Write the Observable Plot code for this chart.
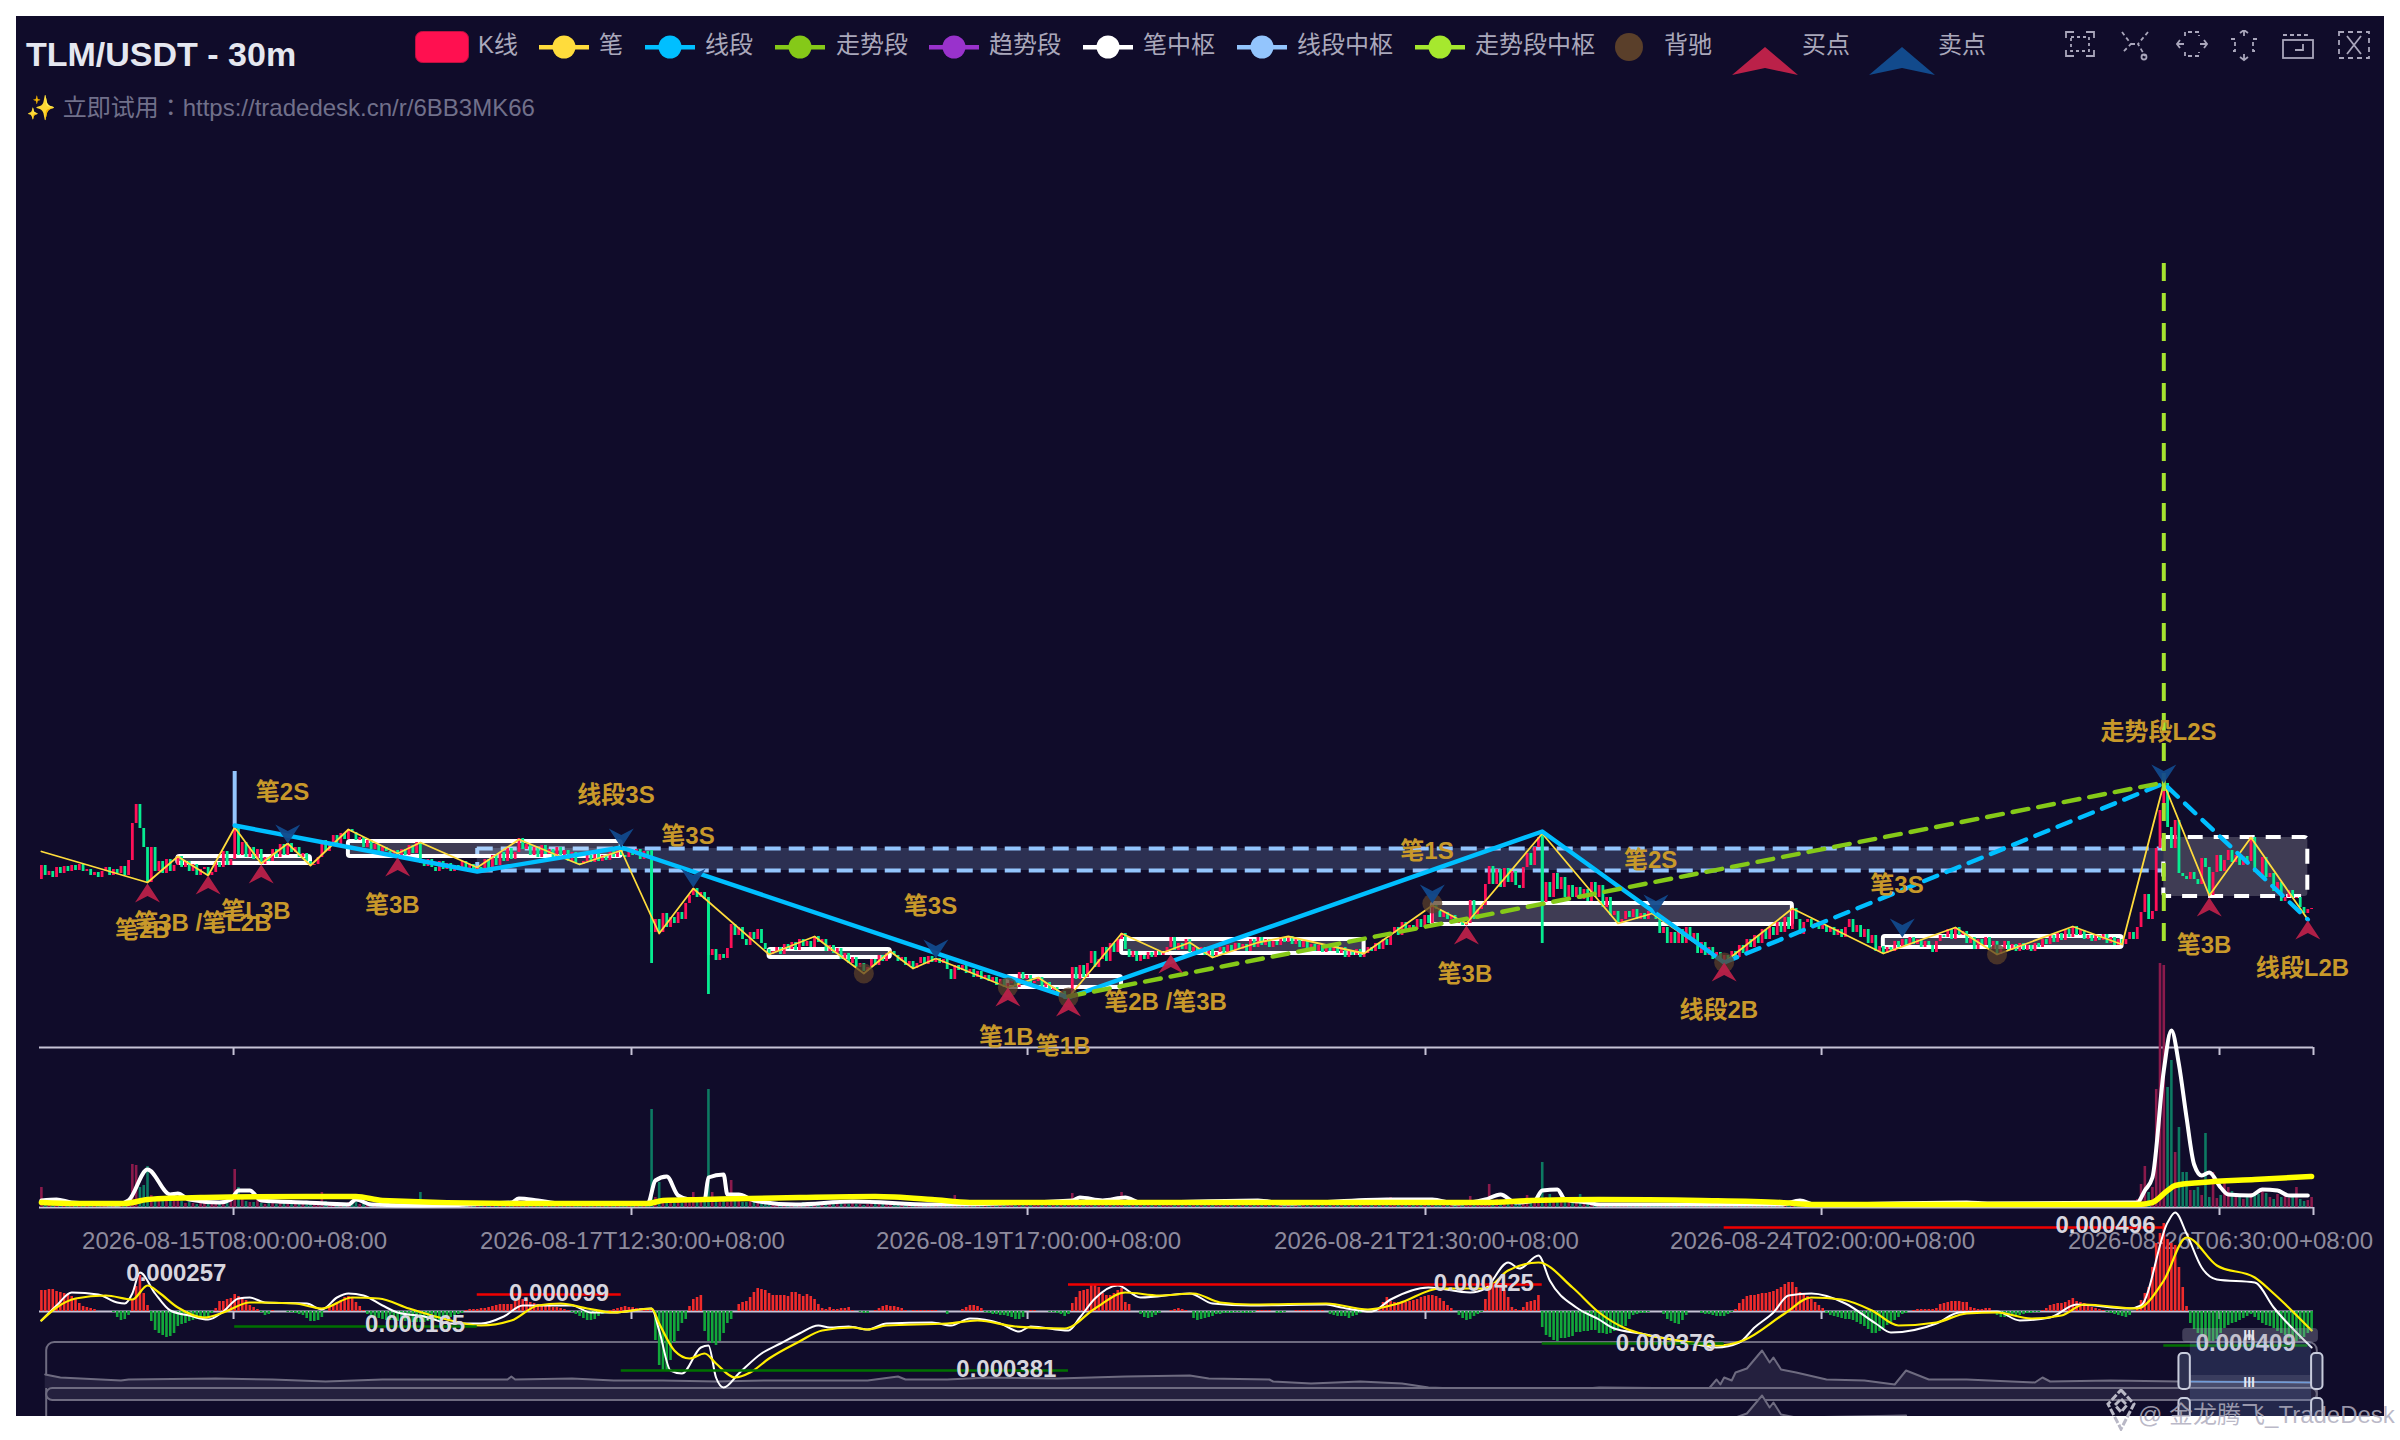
<!DOCTYPE html>
<html><head><meta charset="utf-8">
<script src="https://cdn.jsdelivr.net/npm/d3@7"></script>
<script src="https://cdn.jsdelivr.net/npm/@observablehq/plot@0.6"></script>
<style>
html,body{margin:0;background:#fff}
#chart{position:absolute;left:16px;top:16px;width:2368px;height:1400px;background:#100c2a;overflow:hidden;font-family:"Liberation Sans","Noto Sans CJK JP",sans-serif}
#chart svg{position:absolute;left:0;top:0}
.t{position:absolute;white-space:nowrap;transform:translateY(-50%);line-height:1}
</style></head><body>
<div id="chart"></div>
<script>
// ---------- price panel: values read upward from the panel's axis line ----------
const firstOpen=168;
const closes=[
182,172,176,170,180,174,181,176,182,177,
183,176,178,172,175,170,176,180,172,178,
174,181,172,187,224,243,219,200,165,200,
176,186,174,188,176,182,191,180,186,176,
183,172,178,180,172,175,185,180,196,182,
188,220,192,205,190,200,188,198,183,190,
186,198,190,203,192,204,195,200,190,194,
186,182,183,190,207,196,204,212,203,214,
208,218,215,207,210,200,207,198,203,194,
200,196,190,197,190,198,192,202,194,205,
184,181,188,180,176,186,178,184,176,182,
178,186,178,183,177,180,176,188,178,192,
182,195,186,199,188,195,209,198,203,192,
200,190,202,193,198,188,200,192,197,186,
195,184,183,186,192,185,194,186,192,187,
196,190,197,192,190,196,192,198,188,196,
190,115,128,115,134,120,130,124,135,128,
144,152,159,150,155,148,92,98,87,93,
89,99,123,112,120,108,102,115,108,118,
104,98,93,96,100,93,103,98,105,97,
108,101,106,100,111,105,108,96,102,94,
99,88,94,84,90,80,84,76,80,88,
82,92,86,94,96,92,86,90,82,86,
79,84,90,83,91,85,89,84,88,78,
68,82,77,82,74,78,70,76,68,72,
66,70,62,68,60,64,66,60,75,68,
72,64,66,70,60,65,56,60,52,56,
48,50,80,68,82,70,84,96,80,88,
100,86,104,95,108,114,98,90,96,86,
92,88,95,90,96,92,95,100,110,97,
104,98,108,95,100,94,100,92,98,90,
95,100,94,102,96,104,98,103,96,108,
100,110,102,108,100,106,102,110,105,111,
103,108,100,106,97,103,96,102,95,103,
96,102,94,100,90,97,92,98,90,94,
100,96,104,98,108,102,114,120,112,125,
116,122,118,128,120,132,124,142,138,130,
135,128,132,124,129,122,124,147,128,138,
142,163,181,163,178,160,179,165,176,162,
159,180,194,182,200,210,145,165,150,174,
158,170,150,162,150,160,148,158,146,165,
150,162,140,150,132,136,125,128,136,130,
138,128,134,128,136,133,128,114,120,104,
115,104,118,104,120,108,114,94,105,92,
100,88,95,86,92,88,96,90,102,94,
108,100,112,104,118,108,120,112,125,115,
130,118,139,128,113,125,128,120,124,118,
122,115,120,112,118,110,120,128,115,122,
110,118,104,112,96,101,94,100,96,106,
100,108,102,110,103,108,100,106,102,95,
106,112,110,118,108,120,112,116,104,110,
98,108,102,110,98,106,93,98,106,97,
103,96,104,97,102,96,104,100,108,103,
112,105,114,107,118,110,121,112,117,108,
112,106,112,107,113,104,110,102,108,103,
108,115,108,120,135,153,128,136,199,237,
264,220,199,227,174,171,168,175,168,163,
189,180,152,175,192,176,187,197,185,192,
182,191,186,210,175,172,190,170,174,156,
165,146,150,157,149,150,140,134,138,139];
const wickIdx=[161,176,396], wickLow=[84,53,104], wickHigh=[197,150,215];

const biIdx=[0,28,36,44,51,58,65,71,81,94,100,115,126,142,153,163,172,192,204,217,224,230,236,255,263,271,285,296,303,309,321,329,349,367,376,396,416,425,444,462,486,505,516,536,549,560,572,583,598];
const biVal=[196,165,191,172,220,184,204,182,218,194,205,180,208,183,197,114,159,93,111,74,96,79,89,60,70,50,114,95,105,90,105,111,94,142,124,214,124,134,85,139,94,120,93,121,103,264,152,210,128];
const segIdx=[51,115,153,271,396,444], segVal=[222,176,200,50,216,85];
const segOpenIdx=[444,560,598], segOpenVal=[85,264,128];
const trendIdx=[271,560], trendVal=[51,265];

const pivotStart=[36,81,192,255,285,367,486], pivotEnd=[71,153,224,285,349,462,549];
const pivotLow=[184,191,90,60,94,123,100], pivotHigh=[191,206,98,71,108,144,111];
const openPivot=[560,598,151,210];           // start, end, low, high
const segPivot=[115,560,177,199];            // start, end, low, high
const segPivotFlat=[51,222,276];             // bar, low, high
const trendPivotFlat=[560,97,784];           // bar, low, high

const buyIdx=[28,44,58,94,255,271,298,376,444,572,598], buyVal=[164,172,183,190,60,50,93,122,85,150,127];
const sellIdx=[65,153,172,236,367,426,491,560], sellVal=[204,200,160,89,144,134,110,264];
const divIdx=[217,255,271,367,444,516], divVal=[74,60,50,144,85,93];

const tagText=["笔2B","笔3B /笔L2B","笔L3B","笔2S","笔3B","线段3S","笔3S","笔3S","笔1B","笔1B","笔2B /笔3B","笔1S","笔3B","笔2S","线段2B","笔3S","走势段L2S","笔3B","线段L2B"];
const tagIdx=[27,43,57,64,93,152,171,235,255,270,297,366,376,425,443,490,559,571,597];
const tagVal=[117,124,136,255,142,252,211,141,10,1,45,196,73,187,37,162,315,102,79];

// ---------- time axis ----------
const tickPos=[50.7,155.7,260.2,365.2,469.7,574.7];
const tickEnd=599.5;
const tickText=["2026-08-15T08:00:00+08:00","2026-08-17T12:30:00+08:00","2026-08-19T17:00:00+08:00","2026-08-21T21:30:00+08:00","2026-08-24T02:00:00+08:00","2026-08-26T06:30:00+08:00"];

// ---------- volume ----------
const volume=[
20,3,4,3,5,3,4,3,2,3,
4,3,3,2,3,2,3,4,3,2,
3,4,5,8,43,42,20,22,41,12,
8,10,6,9,7,6,9,6,4,5,
4,3,4,5,3,4,6,5,7,4,
9,38,20,8,6,5,5,7,4,3,
4,5,3,4,5,6,4,3,3,4,
3,4,4,6,15,6,5,4,3,4,
4,5,4,5,3,4,3,3,4,2,
3,2,3,4,3,4,3,4,3,4,
15,4,5,3,4,3,4,3,2,3,
3,3,2,3,3,2,4,3,4,5,
4,5,4,5,6,7,10,5,4,4,
4,3,4,3,3,4,3,3,3,3,
4,3,3,4,3,2,3,3,3,2,
4,3,4,3,3,3,3,4,3,4,
4,98,10,25,8,6,5,4,5,4,
6,8,15,6,7,5,118,15,7,5,
6,5,27,6,7,5,5,6,5,4,
4,5,3,4,3,4,3,4,3,4,
4,5,3,4,3,4,3,3,4,3,
3,4,3,3,4,3,3,2,3,4,
3,3,4,3,4,3,3,2,3,3,
2,3,4,3,3,3,4,3,3,3,
5,12,4,3,3,3,2,3,3,3,
4,3,3,2,3,3,4,3,5,4,
3,3,3,4,3,3,3,3,3,2,
3,3,14,5,7,6,8,7,5,6,
7,5,8,6,7,15,6,5,4,5,
4,3,4,3,3,3,3,4,5,5,
4,3,4,5,3,3,3,4,3,3,
3,3,3,2,3,3,3,3,3,4,
3,8,4,3,3,3,3,4,3,3,
3,3,3,3,2,3,3,3,3,3,
3,3,3,3,3,3,2,3,3,3,
3,4,4,3,4,5,10,4,5,4,
4,3,5,4,4,5,4,5,3,3,
4,3,4,4,3,3,4,11,5,6,
6,8,23,7,8,6,7,5,6,5,
5,8,12,6,8,9,45,10,13,8,
7,7,6,5,5,4,13,5,4,5,
3,4,3,4,3,3,3,3,2,3,
3,3,3,3,3,3,3,3,3,3,
3,3,3,4,3,3,3,3,3,4,
3,3,3,3,3,3,3,4,5,4,
5,3,4,3,4,3,4,3,4,3,
5,3,4,6,3,3,3,3,3,3,
3,3,3,3,3,3,4,3,3,3,
3,3,3,3,2,3,3,3,3,3,
3,3,3,3,3,3,3,3,3,4,
3,3,4,3,3,4,3,3,3,3,
3,3,3,3,3,3,3,3,3,3,
3,3,3,2,3,3,3,3,3,3,
3,3,4,3,4,3,4,3,3,3,
4,3,3,3,3,3,3,3,3,4,
5,6,5,8,23,41,15,20,118,244,
242,120,147,55,80,35,35,17,17,20,
12,74,10,35,9,12,28,20,16,10,
12,8,10,14,12,13,16,14,10,8,
13,10,12,9,10,20,8,6,7,10];
const volFastIdx=[0,4,8,20,23,28,34,36,39,47,50,52,55,58,70,81,83,87,100,124,126,131,137,160,162,165,168,171,175,176,180,181,184,188,199,214,235,272,274,280,286,290,321,328,355,367,373,381,385,389,394,396,400,402,408,411,459,464,468,508,514,553,555,557,560,562,564,566,568,570,572,575,577,583,586,590,593,598];
const volFastVal=[7,8,5,3,7,38,13,14,8,5,8,17,17,7,5,3,8,3,2,5,9,7,4,4,27,31,12,8,8,30,33,13,13,7,3,6,3,7,10,7,10,5,7,4,8,8,4,8,13,5,7,17,18,8,5,3,3,7,3,5,4,5,17,30,137,177,143,90,43,32,35,20,13,12,18,17,12,12];
const volSlowIdx=[0,9,22,28,43,70,83,90,124,160,164,175,200,220,235,245,308,362,381,393,411,438,459,468,553,557,561,563,570,584,599];
const volSlowVal=[5,4,4,8,10,11,11,7,4,4,7,8,10,11,8,5,5,5,5,7,8,7,5,3,3,5,17,22,25,28,31];

// ---------- MACD ----------
const macdHist=[
21,21,22,22,20,19,18,17,15,12,8,5,4,3,2,
0,0,0,0,
-1,-6,-9,-8,-4,
11,25,36,18,6,
-10,-19,-22,-24,-26,-25,-22,-15,-13,-12,-10,-9,-8,-7,-6,-5,-2,
3,10,10,12,13,17,15,14,11,6,4,2,
-1,-4,-3,
1,0,0,0,
-1,-1,-2,-3,-4,-7,-10,-10,-9,-6,
0,
4,7,9,11,14,15,14,9,5,
1,
-3,-5,-6,-7,-8,-9,-9,-9,-10,-10,-10,-10,-11,-11,-11,-11,-10,-11,-10,-9,-8,-7,-6,-5,-3,-2,
1,2,2,2,3,3,4,5,6,7,7,7,7,10,13,12,12,9,8,7,6,5,5,4,4,3,2,1,
-1,-3,-5,-7,-9,-9,-8,-5,-3,-1,
1,2,3,4,5,4,4,3,3,2,2,2,
-29,-54,-59,-59,-49,-31,-20,-12,-8,
5,12,14,16,
-20,-30,-32,-34,-30,-22,-12,-8,
0,
7,9,10,14,19,23,22,21,18,16,16,16,16,15,19,19,
17,15,17,15,12,7,3,2,
4,2,2,3,3,4,1,
0,
-1,-2,-2,
0,
1,3,5,6,5,5,4,3,1,
0,
1,1,1,1,1,1,1,0,
0,-3,0,0,0,
2,4,6,6,5,3,
-1,-2,-3,-3,-4,-4,-5,-6,-8,-8,-6,
0,1,1,0,
0,0,
-1,-1,-2,-3,-5,-3,
8,14,20,21,22,26,26,24,18,16,16,18,21,23,9,7,
0,0,
-3,-6,-7,-6,-4,-2,
0,0,
1,2,3,2,1,
0,
-7,-9,-8,-7,-6,-5,-3,-3,-2,-2,-2,-1,-1,-2,-2,
-2,-1,
1,1,1,1,
0,
-2,-2,-1,
0,0,
1,1,1,1,1,1,1,1,
0,
-3,-4,-5,-5,-5,-7,-5,-4,-2,-1,
0,0,0,
3,9,14,10,9,9,9,9,10,11,12,14,15,16,16,15,13,10,6,3,
0,
-4,-7,-9,-8,-5,-3,-1,
12,24,26,26,28,21,14,4,
2,1,
4,9,10,11,16,
-16,-24,-26,-29,-30,-27,-27,-26,-25,-21,
-21,-20,-20,-19,-19,
-22,-22,-23,-22,-20,-18,-17,-15,-8,
-4,-3,-2,-2,-1,0,
0,0,
-3,-8,-10,-12,-13,-9,-4,
0,0,0,
-2,-3,-3,-4,-5,-5,-5,-3,-1,
2,8,12,15,16,16,17,18,18,19,20,22,24,27,29,29,24,19,17,15,12,9,6,3,
-2,-4,-5,-6,-7,-8,-8,-9,-11,-13,-15,-18,-22,-22,-20,-17,-14,-11,-9,-6,-3,-2,
0,
1,2,2,2,2,2,3,7,8,9,10,10,10,9,9,4,3,2,2,3,3,
0,
-4,-6,-6,-6,-5,-5,-4,-3,-2,-2,-1,-1,
1,3,6,7,8,8,9,11,13,10,9,8,5,4,3,2,1,
-1,-2,-3,-4,-5,-6,-4,
0,
5,11,18,24,44,68,78,88,72,68,66,44,24,5,
-12,-18,-22,-26,-30,-30,-30,-28,-22,-17,-14,-12,-11,-9,-7,-5,-3,-6,-9,-12,-14,-15,-17,-20,-22,-24,-27,-30,-30,-28,-26,-22,-20];
const difIdx=[0,4,8,15,20,22,24,26,30,34,39,44,48,52,55,59,70,74,78,81,85,90,94,101,108,116,122,127,135,140,145,151,161,163,166,169,174,176,178,180,184,190,195,200,205,208,213,218,223,235,240,245,253,258,261,271,274,278,284,290,303,309,319,339,343,351,356,366,377,381,387,390,395,398,405,411,415,422,433,442,448,452,457,461,467,476,484,488,500,506,516,522,530,537,551,554,561,563,566,570,574,584,589,599];
const difVal=[-9,6,19,17,9,8,18,39,18,1,-4,-8,0,13,14,9,8,2,14,18,16,6,-1,-5,-12,-12,-5,6,6,6,-1,-1,3,-19,-59,-62,-36,-34,-66,-76,-62,-42,-32,-22,-14,-16,-15,-18,-12,-11,-14,-7,-12,-20,-15,-19,-6,13,26,14,18,8,6,7,4,0,12,24,19,23,49,43,56,31,4,-8,-17,-22,-30,-36,-31,-16,-1,16,18,8,-12,-21,-12,-1,0,-9,-6,7,3,6,89,99,78,44,32,29,4,-36];
const deaIdx=[0,4,9,17,24,28,31,36,43,48,55,67,74,82,89,97,105,116,124,131,137,144,151,161,163,167,171,175,178,183,187,192,200,206,214,218,223,239,247,257,270,278,286,295,304,311,319,339,350,358,369,381,387,395,404,411,418,423,432,442,449,460,467,475,483,490,500,508,516,525,533,539,553,560,566,574,584,589,599];
const deaVal=[-9,4,13,16,12,26,19,4,-6,-1,9,8,3,14,13,3,-6,-14,-9,6,8,3,-1,3,-12,-39,-47,-42,-52,-66,-61,-47,-30,-19,-16,-18,-14,-12,-9,-15,-17,3,19,16,18,9,7,8,2,8,23,23,41,49,24,-1,-17,-23,-29,-34,-29,-2,14,12,1,-14,-11,-2,-1,-7,-4,7,3,31,74,46,34,18,-19];
const macdNoteText=["0.000257","0.000099","0.000165","0.000381","0.000425","0.000376","0.000496","0.000409"];
const macdNoteIdx=[36,137,99,255,381,429,545,582];
const macdNoteVal=[38,18,-13,-58,28,-32,86,-32];
const macdRedStart=[115,271,444], macdRedEnd=[153,396,560], macdRedVal=[17,27,84];
const macdGreenStart=[51,153,396,560], macdGreenEnd=[115,271,444,598], macdGreenVal=[-15,-59,-32,-34];

// ---------- data-zoom overview ----------
const overIdx=[1,5,21,23,46,61,75,90,123,124,125,140,151,164,178,191,200,218,226,228,239,250,268,286,303,308,324,325,335,348,359,366,381,391,404,411,440,442,443,444,446,447,450,452,454,456,457,459,463,471,481,489,492,498,508,526,528,530,546,564,599];
const overVal=[14,11,8,9,10,9,7,9,9,12,9,10,8,8,7,8,8,8,12,9,9,11,10,12,13,10,9,7,5,7,5,1,-1,0,-1,1,0,9,4,11,8,16,20,29,38,26,31,19,16,9,8,4,18,9,9,6,11,7,8,7,6];

// ---------- legend ----------
const legendNames=["K线","笔","线段","走势段","趋势段","笔中枢","线段中枢","走势段中枢","背驰","买点","卖点"];
const legendColors=["#ff1050","#ffdc3c","#00bfff","#85c918","#9932cc","#ffffff","#93c5fd","#a6e82e","#5a3f2a","#bb2149","#124a8c"];
const legendIcon=[415,539,645,775,929,1083,1237,1415,1615,1732,1869];
const legendText=[478,599,705,836,989,1143,1297,1475,1664,1802,1938];

// ---------- drawing ----------
const W=2368,H=1400,FONT='"Liberation Sans","Noto Sans CJK JP",sans-serif';
const UP="#ff1058",DOWN="#06ec90",GOLD="#c8992a",AXIS="#c6c3d6";
const chart=document.getElementById("chart");
const pts=(xs,ys)=>xs.map((x,i)=>({x,y:ys[i]}));
const frame=(zero,marks)=>{
  const svg=Plot.plot({width:W,height:H,marginLeft:23,marginRight:71,marginTop:0,marginBottom:0,
    x:{domain:[-0.5,599.5],axis:null},y:{domain:[zero-H,zero],axis:null},
    style:{background:"transparent",fontFamily:FONT},marks});
  chart.appendChild(svg);return svg;
};
const arrow=(dir)=>({draw(ctx,size){const s=Math.sqrt(size/Math.PI);
  ctx.moveTo(0,0);ctx.lineTo(s,dir*1.52*s);ctx.lineTo(0,dir*1.0*s);ctx.lineTo(-s,dir*1.52*s);ctx.closePath();}});
const axisMarks=(ticks)=>[
  Plot.ruleY([0],{x1:-0.5,x2:599.5,stroke:AXIS,strokeWidth:2}),
  Plot.ruleX(ticks,{y1:()=>0,y2:()=>-8,stroke:AXIS,strokeWidth:2})
];
const bars=closes.map((c,i)=>({i,o:i?closes[i-1]:firstOpen,c,v:volume[i],h:macdHist[i]}));
const pivots=pivotStart.map((s,i)=>({s,e:pivotEnd[i],lo:pivotLow[i],hi:pivotHigh[i]}));
const wicks=wickIdx.map((i,k)=>({i,lo:wickLow[k],hi:wickHigh[k]}));

// slider base
frame(1372,[
  Plot.rect([0],{x1:()=>1.4,x2:()=>600.5,y1:()=>-60,y2:()=>46,stroke:"#6e6b80",strokeWidth:2,fill:"none",r:8}),
  Plot.areaY(pts(overIdx,overVal),{x:"x",y1:()=>0,y2:"y",fill:"#24203e"}),
  Plot.line(pts(overIdx,overVal),{x:"x",y:"y",stroke:"#6e6b80",strokeWidth:2}),
  Plot.rect([0],{x1:()=>1.4,x2:()=>600.5,y1:()=>-12,y2:()=>0,stroke:"#6e6b80",strokeWidth:2,fill:"#24203e",r:6}),
  Plot.areaY(pts(overIdx,overVal),{x:"x",y1:()=>-45,y2:d=>d.y-45,fill:"#24203e"}),
  Plot.line(pts(overIdx,overVal).filter(d=>d.y>12),{x:"x",y:d=>d.y-45,stroke:"#6e6b80",strokeWidth:2,z:null})
]);

// price
frame(1031,[
  ...axisMarks([...tickPos,tickEnd]),
  Plot.rect([segPivot],{x1:d=>d[0],x2:d=>d[1],y1:d=>d[2],y2:d=>d[3],fill:"#2c3052"}),
  Plot.ruleY([segPivot[2],segPivot[3]],{x1:segPivot[0],x2:segPivot[1],stroke:"#93c5fd",strokeWidth:4,strokeDasharray:"16 8"}),
  Plot.ruleX([segPivot[0]],{y1:()=>segPivot[2],y2:()=>segPivot[3],stroke:"#93c5fd",strokeWidth:4,strokeDasharray:"8 6"}),
  Plot.rect(pivots,{x1:"s",x2:"e",y1:"lo",y2:"hi",fill:"#ffffff",fillOpacity:0.2,stroke:"#ffffff",strokeWidth:4,r:2}),
  Plot.rect([openPivot],{x1:d=>d[0],x2:d=>d[1],y1:d=>d[2],y2:d=>d[3],fill:"#ffffff",fillOpacity:0.2,stroke:"#ffffff",strokeWidth:4,strokeDasharray:"15 11",r:3}),
  Plot.ruleX(bars.filter(d=>d.c>=d.o),{x:"i",y1:"o",y2:"c",stroke:UP,strokeWidth:2.8}),
  Plot.ruleX(bars.filter(d=>d.c<d.o),{x:"i",y1:"o",y2:"c",stroke:DOWN,strokeWidth:2.8}),
  Plot.ruleX(wicks,{x:"i",y1:"lo",y2:"hi",stroke:DOWN,strokeWidth:2.8}),
  Plot.line(pts(biIdx,biVal),{x:"x",y:"y",stroke:"#ffdc3c",strokeWidth:1.8}),
  Plot.ruleX([segPivotFlat[0]],{y1:()=>segPivotFlat[1],y2:()=>segPivotFlat[2],stroke:"#93c5fd",strokeWidth:4}),
  Plot.line(pts(segIdx,segVal),{x:"x",y:"y",stroke:"#00bfff",strokeWidth:4.4}),
  Plot.line(pts(segOpenIdx,segOpenVal),{x:"x",y:"y",stroke:"#00bfff",strokeWidth:4.4,strokeDasharray:"14 10"}),
  Plot.line(pts(trendIdx,trendVal),{x:"x",y:"y",stroke:"#85c918",strokeWidth:4.4,strokeDasharray:"16 10"}),
  Plot.ruleX([trendPivotFlat[0]],{y1:()=>trendPivotFlat[2],y2:()=>trendPivotFlat[1],stroke:"#a6e32f",strokeWidth:4,strokeDasharray:"18 12"}),
  Plot.dot(pts(divIdx,divVal),{x:"x",y:"y",r:10,fill:"#5a3f2a",fillOpacity:0.75,stroke:"none"}),
  Plot.dot(pts(buyIdx,buyVal),{x:"x",y:"y",r:12.5,symbol:arrow(1),fill:"#bb2149",fillOpacity:0.95,stroke:"none"}),
  Plot.dot(pts(sellIdx,sellVal),{x:"x",y:"y",r:12.5,symbol:arrow(-1),fill:"#124a8c",fillOpacity:0.95,stroke:"none"}),
  Plot.text(tagText,{x:(d,i)=>tagIdx[i],y:(d,i)=>tagVal[i],dx:-1.5,text:d=>d,fill:GOLD,fontSize:24,fontWeight:"bold",fontFamily:FONT})
]);

// volume
frame(1191,[
  ...axisMarks([...tickPos,tickEnd]),
  Plot.ruleX(bars.filter(d=>d.c>=d.o),{x:"i",y1:()=>0,y2:"v",stroke:"#8b1a4c",strokeWidth:2.6}),
  Plot.ruleX(bars.filter(d=>d.c<d.o),{x:"i",y1:()=>0,y2:"v",stroke:"#0d7a62",strokeWidth:2.6}),
  Plot.line(pts(volFastIdx,volFastVal),{x:"x",y:"y",stroke:"#ffffff",strokeWidth:4,curve:"monotone-x"}),
  Plot.line(pts(volSlowIdx,volSlowVal),{x:"x",y:"y",stroke:"#ffff00",strokeWidth:5.5,curve:"monotone-x"}),
  Plot.text(tickText,{x:(d,i)=>tickPos[i],y:()=>-34,dx:1,text:d=>d,fill:"#8e8b9d",fontSize:24,fontFamily:FONT})
]);

// MACD
frame(1295,[
  ...axisMarks(tickPos),
  Plot.ruleX(bars.filter(d=>d.h>0),{x:"i",y1:()=>0,y2:"h",stroke:"#f02b2b",strokeWidth:2.6}),
  Plot.ruleX(bars.filter(d=>d.h<0),{x:"i",y1:()=>0,y2:"h",stroke:"#12a83a",strokeWidth:2.6}),
  Plot.line(pts(difIdx,difVal),{x:"x",y:"y",stroke:"#ffffff",strokeWidth:2,curve:"monotone-x"}),
  Plot.line(pts(deaIdx,deaVal),{x:"x",y:"y",stroke:"#ffee00",strokeWidth:2.2,curve:"monotone-x"}),
  Plot.ruleY(macdRedVal,{x1:(d,i)=>macdRedStart[i],x2:(d,i)=>macdRedEnd[i],stroke:"#f00000",strokeWidth:2.5}),
  Plot.ruleY(macdGreenVal,{x1:(d,i)=>macdGreenStart[i],x2:(d,i)=>macdGreenEnd[i],stroke:"#007000",strokeWidth:2.5}),
  Plot.text(macdNoteText,{x:(d,i)=>macdNoteIdx[i],y:(d,i)=>macdNoteVal[i],dx:-1.5,text:d=>d,fill:"#d8d6df",fontSize:24,fontWeight:"bold",fontFamily:FONT})
]);

// data-zoom window
const handles=[[564,567,-1,35],[599,602,-1,35],[564,567,-45,-10],[599,602,-45,-10]];
frame(1372,[
  Plot.rect([0],{x1:()=>565,x2:()=>600.8,y1:()=>46,y2:()=>60,fill:"#9a9ab0",fillOpacity:0.35,r:4}),
  Plot.rect([0],{x1:()=>567,x2:()=>599,y1:()=>-60,y2:()=>46,fill:"#7a9ad8",fillOpacity:0.2}),
  Plot.rect([0],{x1:()=>567,x2:()=>599,y1:()=>0,y2:()=>13,fill:"#ffffff",fillOpacity:0.1}),
  Plot.line(pts(overIdx,overVal).filter(d=>d.x>=564),{x:"x",y:"y",stroke:"#6f9bd8",strokeWidth:1.5}),
  Plot.rect(handles,{x1:d=>d[0],x2:d=>d[1],y1:d=>d[2],y2:d=>d[3],fill:"#2d3050",stroke:"#c8ccdc",strokeWidth:2,r:4}),
  Plot.text(["III","III"],{x:()=>582.5,y:(d,i)=>[53,6][i],text:d=>d,fill:"#e8e8f0",fontSize:14,fontWeight:"bold",fontFamily:FONT})
]);

// ---------- HTML header: title, subtitle, legend, toolbox ----------
const el=(tag,css,html)=>{const e=document.createElement(tag);e.style.cssText=css;if(html!=null)e.innerHTML=html;return e;};
const txt=(s,x,y,size,color,weight)=>{const e=el("div",`left:${x-16}px;top:${y-16}px;font-size:${size}px;color:${color};font-weight:${weight||"normal"}`,s);e.className="t";chart.appendChild(e);};
txt("TLM/USDT - 30m",26,54,34,"#e5e7f0","bold");
txt('<span style="color:#8f7430">✨</span> 立即试用：https://tradedesk.cn/r/6BB3MK66',26,108,24,"#71708a");
legendNames.forEach((n,i)=>{
  const x=legendIcon[i]-16,c=legendColors[i];let s;
  if(i===0) s=`<svg style="left:${x}px;top:15px" width="54" height="32"><rect x="0.5" y="0.5" width="53" height="31" rx="7" fill="${c}" stroke="#c01040"/></svg>`;
  else if(i===8) s=`<svg style="left:${x}px;top:17px" width="28" height="28"><circle cx="14" cy="14" r="14" fill="${c}"/></svg>`;
  else if(i>=9) s=`<svg style="left:${x}px;top:31px" width="66" height="28"><path d="M33 0L66 28L33 21L0 28Z" fill="${c}"/></svg>`;
  else s=`<svg style="left:${x}px;top:19px" width="50" height="24"><rect x="0" y="10" width="50" height="4.5" fill="${c}"/><ellipse cx="25" cy="12" rx="11.5" ry="11.5" fill="${c}"/></svg>`;
  chart.insertAdjacentHTML("beforeend",s);
  txt(n,legendText[i],45,24,"#aaa8bb");
});
const iconStyle='fill="none" stroke="#a9a6bb" stroke-width="1.8"';
const toolIcons=[
 `<path d="M2 8V2H10M22 2H30V8M30 20V26H22M10 26H2V20" ${iconStyle}/><rect x="7" y="7" width="18" height="14" stroke-dasharray="3 3" ${iconStyle}/>`,
 `<path d="M3 2L12 14L4 22M29 2L19 14L26 26M12 14L19 14" stroke-dasharray="4 3" ${iconStyle}/><circle cx="25" cy="27" r="2.5" ${iconStyle}/>`,
 `<path d="M9 6V2H23V6M9 22V26H23V22" stroke-dasharray="4 3" ${iconStyle}/><path d="M8 14H1M4 10L1 14L4 18M24 14H31M28 10L31 14L28 18" ${iconStyle}/>`,
 `<path d="M3 9H7V21H3M29 9H25V21H29" stroke-dasharray="4 3" ${iconStyle}/><path d="M16 6V0M12 3L16 0L20 3M16 24V30M12 27L16 30L20 27" ${iconStyle}/>`,
 `<rect x="1" y="10" width="30" height="18" ${iconStyle}/><path d="M1 5H25V3" stroke-dasharray="4 3" ${iconStyle}/><path d="M13 20H21V14" ${iconStyle}/>`,
 `<rect x="1" y="2" width="30" height="26" stroke-dasharray="5 4" ${iconStyle}/><path d="M9 6L23 24M23 6L9 24" ${iconStyle}/>`
];
const toolX=[2080,2135,2192,2244,2298,2354];
toolIcons.forEach((p,i)=>chart.insertAdjacentHTML("beforeend",`<svg style="left:${toolX[i]-32}px;top:14px" width="32" height="32">${p}</svg>`));

// watermark (runs past the dark panel)
document.body.insertAdjacentHTML("beforeend",`<svg style="position:absolute;left:2106px;top:1389px" width="30" height="42"><path d="M15 1L28 15L15 40L2 15Z M15 10L21 16L15 23L9 16Z" fill="none" stroke="#b9b8c6" stroke-width="3" stroke-dasharray="7 2"/></svg><div style="position:absolute;left:2138px;top:1395px;line-height:24px;font:24px 'Liberation Sans','Noto Sans CJK JP',sans-serif;color:rgba(175,173,190,.85);white-space:nowrap">@ 金龙腾飞_TradeDesk</div>`);
</script>
</body></html>
